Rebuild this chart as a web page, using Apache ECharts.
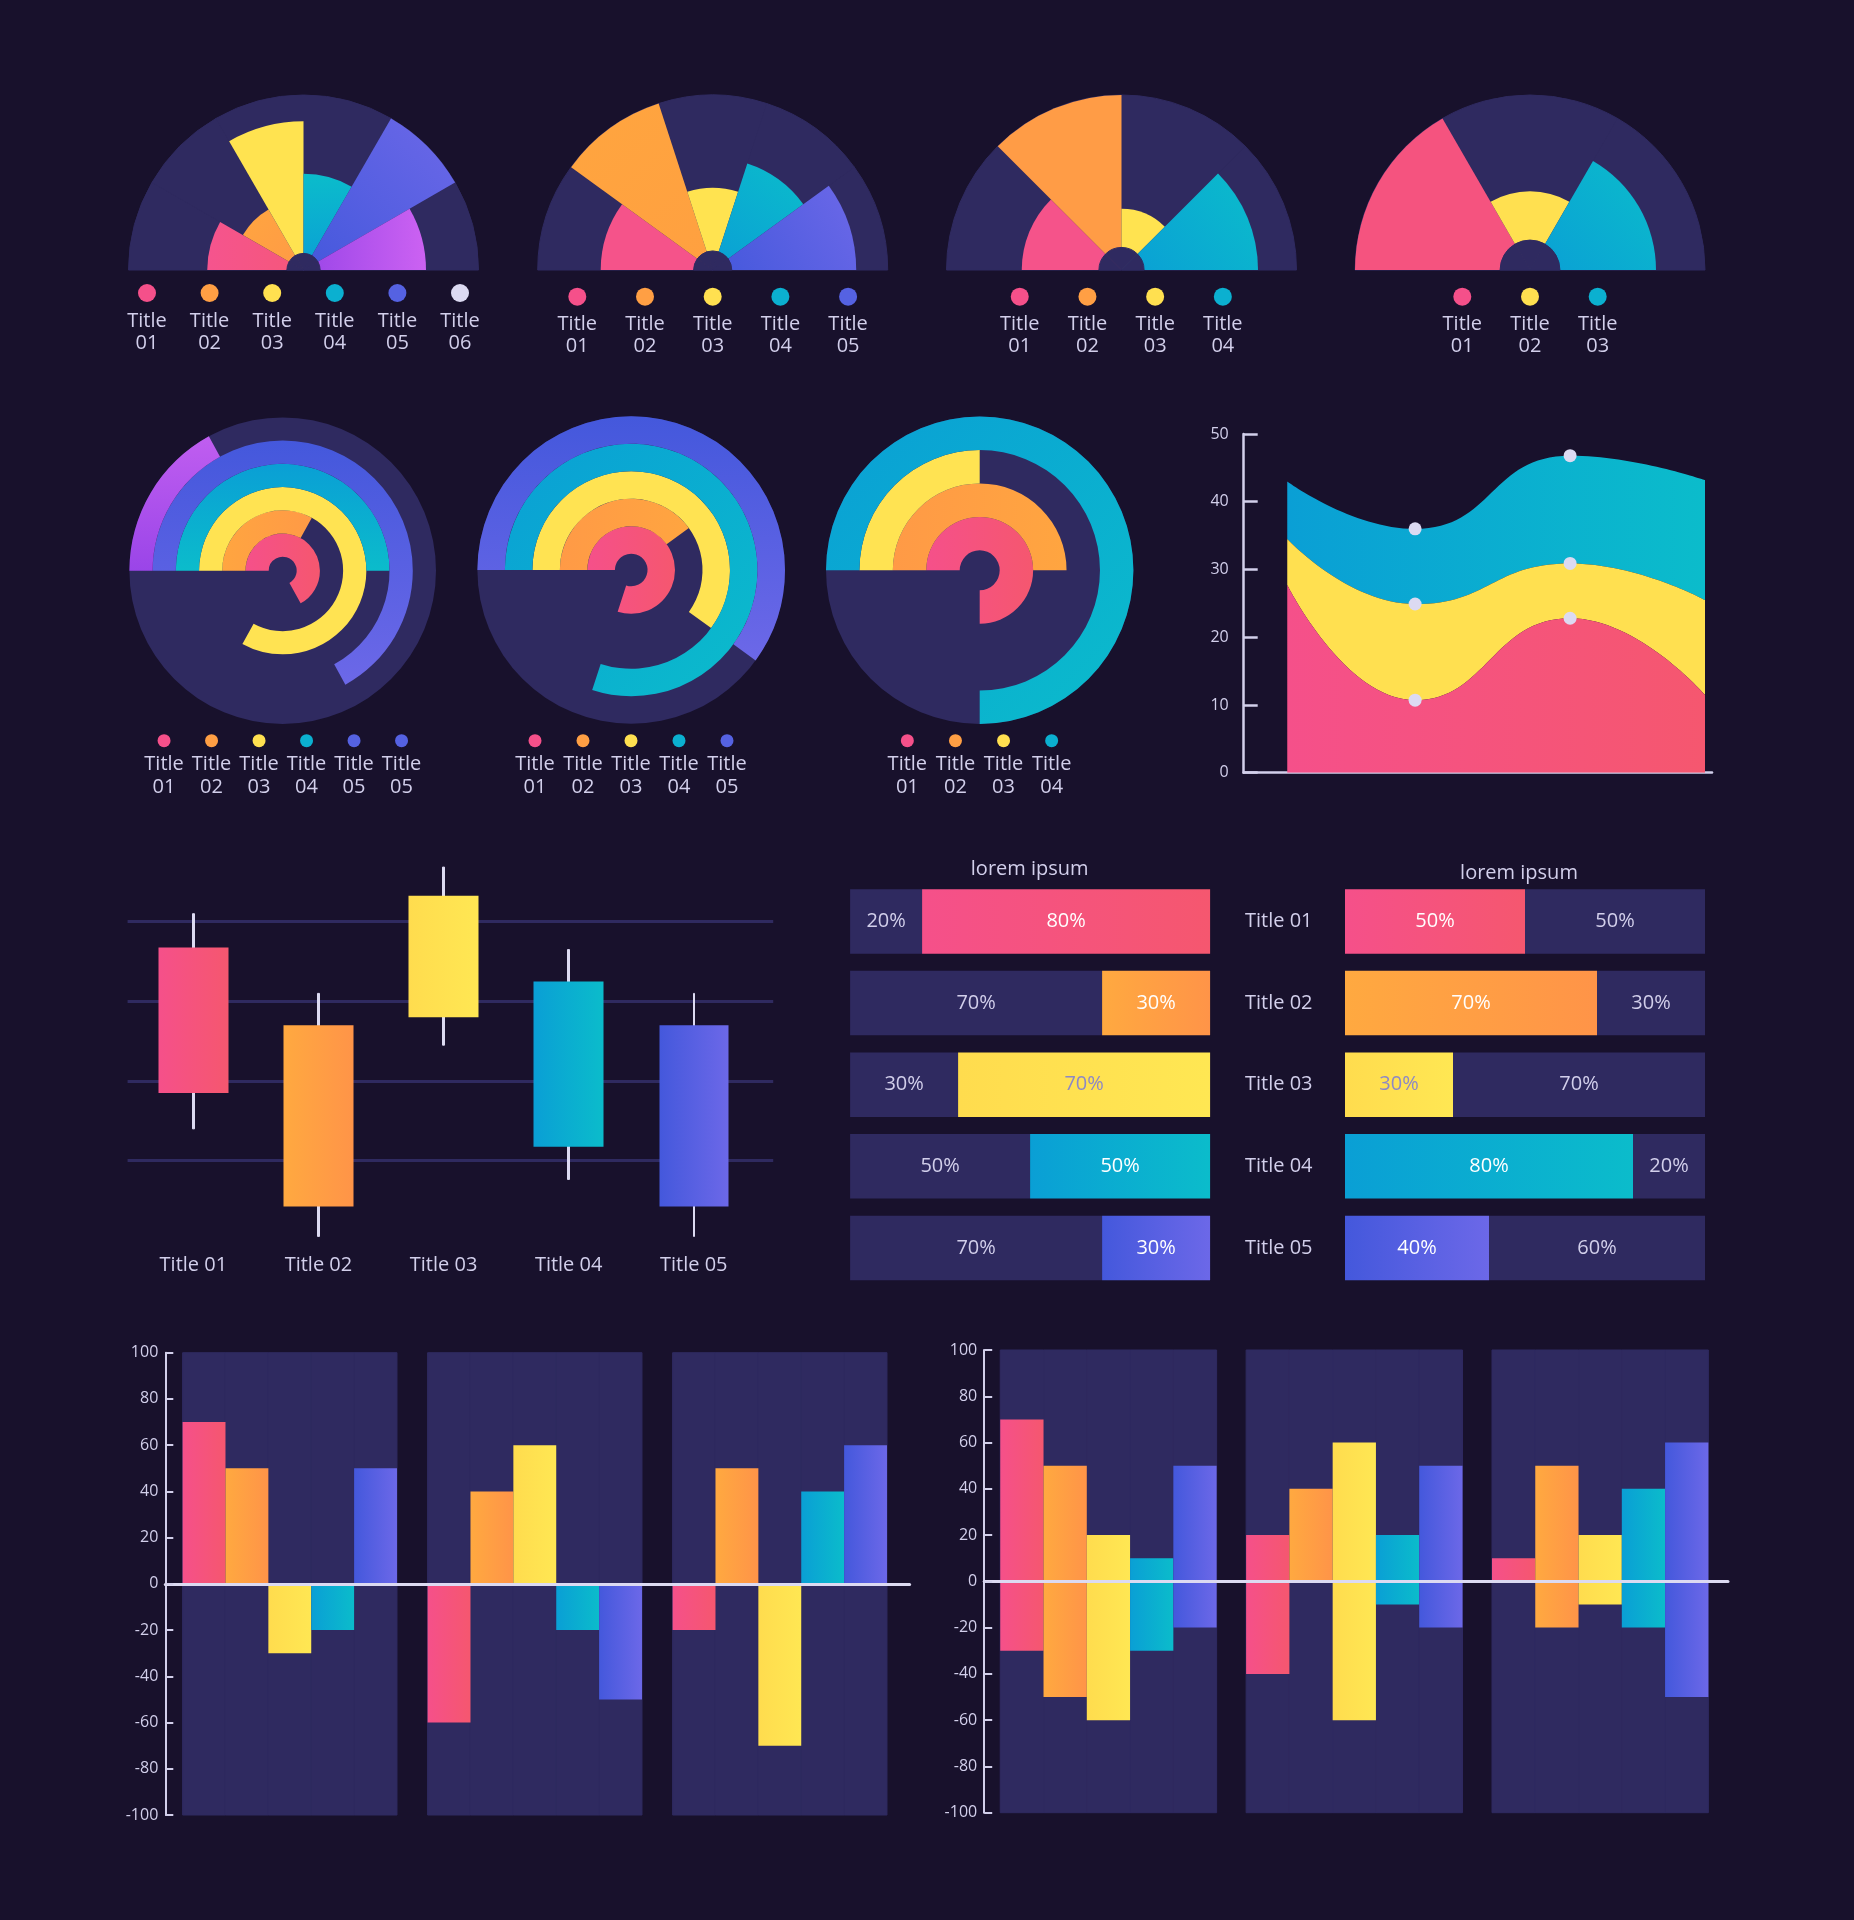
<!DOCTYPE html>
<html><head><meta charset="utf-8">
<script src="https://cdn.jsdelivr.net/npm/echarts@6/dist/echarts.min.js"></script>
<style>html,body{margin:0;padding:0;background:#18112c;}#c{width:1854px;height:1920px;}</style>
</head><body><div id="c"></div>
<script>
// ---------------- DATA ----------------
const rose1Titles = ['Title 01','Title 02','Title 03','Title 04','Title 05','Title 06'];
const rose1Values = [55, 40, 85, 55, 100, 70];
const rose2Titles = ['Title 01','Title 02','Title 03','Title 04','Title 05'];
const rose2Values = [64, 100, 47, 64, 82];
const rose3Titles = ['Title 01','Title 02','Title 03','Title 04'];
const rose3Values = [57, 100, 35, 78];
const rose4Titles = ['Title 01','Title 02','Title 03'];
const rose4Values = [100, 45, 72];

const ring1Titles = ['Title 01','Title 02','Title 03','Title 04','Title 05','Title 05'];
const ring1Values = [67, 33, 83, 50, 67, 17];
const ring2Titles = ['Title 01','Title 02','Title 03','Title 04','Title 05'];
const ring2Values = [80, 40, 60, 80, 60];
const ring3Titles = ['Title 01','Title 02','Title 03','Title 04'];
const ring3Values = [75, 50, 25, 75];

const areaX      = [9.3, 36.6, 69.7, 98.5];
const areaPink   = [27.7, 10.7, 22.8, 11.5];
const areaYellow = [6.8, 14.2, 8.1, 14.0];
const areaCyan   = [8.5, 11.1, 15.9, 17.7];
const areaTicks  = [0, 10, 20, 30, 40, 50];

const candleTitles = ['Title 01','Title 02','Title 03','Title 04','Title 05'];
const candleOpen  = [37, 8.5, 56, 23.5, 8.5];
const candleClose = [73.5, 54, 86.5, 65, 54];
const candleLow   = [28, 1, 49, 15.3, 1];
const candleHigh  = [82, 62, 93.7, 73, 62];

const pctTitles = ['Title 01','Title 02','Title 03','Title 04','Title 05'];
const pctLeftRest   = [20, 70, 30, 50, 70];
const pctLeftShare  = [80, 30, 70, 50, 30];
const pctRightShare = [50, 70, 30, 80, 40];
const pctRightRest  = [50, 30, 70, 20, 60];
const pctTitle = 'lorem ipsum';

const barGroups = ['Group 1','Group 2','Group 3'];
const barNames = ['Title 01','Title 02','Title 03','Title 04','Title 05'];
const barValues = [[70,-60,-20],[50,40,50],[-30,60,-70],[-20,-20,40],[50,-50,60]];
const rangeHigh = [[70,20,10],[50,40,50],[20,60,20],[10,20,40],[50,50,60]];
const rangeLow  = [[-30,-40,0],[-50,0,-20],[-60,-60,-10],[-30,-10,-20],[-20,-20,-50]];

// ---------------- STYLE ----------------
const BG='#18112c', PANEL='#2f2a60', TXT='#d2cfeb', LAV='#dcdaf2';
const FONT='"Open Sans","Noto Sans",sans-serif';
function lgc(a,b,x0=0,y0=0,x1=1,y1=0){return new echarts.graphic.LinearGradient(x0,y0,x1,y1,[{offset:0,color:a},{offset:1,color:b}]);}
const G = {
  pink:()=>lgc('#f5508a','#f5576f'),
  orange:()=>lgc('#ffa940','#ff9448'),
  yellow:()=>lgc('#ffdc4e','#ffe753'),
  cyan:()=>lgc('#0a9fd5','#0bbccb'),
  blue:()=>lgc('#4458dc','#6c68e8'),
  purple:()=>lgc('#9a45e8','#cc62f2')
};
const DOT = {pink:'#f5508a',orange:'#ff9f44',yellow:'#ffe050',cyan:'#0bb0d0',blue:'#5562e2',lav:'#dcdaf2'};
const seq5 = ['pink','orange','yellow','cyan','blue'];
const PANEL_BG = {color:PANEL,borderColor:PANEL,borderWidth:1};

const grid=[],xAxis=[],yAxis=[],polar=[],angleAxis=[],radiusAxis=[],series=[],graphic=[];

function addLegend(labels, colors, cx, y, sp, size, lh, mg){
  const gi=grid.length, w=labels.length*sp;
  grid.push({left:cx-w/2, top:y-10, width:w, height:20});
  xAxis.push({gridIndex:gi,type:'category',data:labels.map((_,i)=>String(i)),
    axisLine:{show:false},axisTick:{show:false},splitLine:{show:false},
    axisLabel:{interval:0,color:TXT,fontSize:20,lineHeight:lh,margin:mg,fontFamily:FONT,
      formatter:(v,i)=>labels[i].replace(' ','\n')}});
  yAxis.push({gridIndex:gi,type:'value',min:0,max:1,show:false});
  series.push({type:'scatter',xAxisIndex:gi,yAxisIndex:gi,symbolSize:size,silent:true,
    data:labels.map((l,i)=>({value:0.5,itemStyle:{color:DOT[colors[i]],opacity:1}}))});
}

function addRose(titles, values, colors, cx, cy, r, hole){
  const pi=polar.length;
  polar.push({center:[cx,cy],radius:[0,r]});
  angleAxis.push({polarIndex:pi,type:'category',data:titles,startAngle:180,endAngle:0,clockwise:true,show:false});
  radiusAxis.push({polarIndex:pi,type:'value',min:0,max:100,show:false});
  const base={type:'bar',coordinateSystem:'polar',polarIndex:pi,barCategoryGap:'0%',barGap:'-100%',silent:true};
  series.push(Object.assign({},base,{z:1,data:titles.map(()=>100),itemStyle:PANEL_BG}));
  series.push(Object.assign({},base,{z:2,data:values.map((v,i)=>({value:v,itemStyle:{color:colors[i]}}))}));
  series.push(Object.assign({},base,{z:3,data:titles.map(()=>hole),itemStyle:PANEL_BG}));
}

function addRing(titles, values, colors, cx, cy, r0, r){
  const pi=polar.length;
  polar.push({center:[cx,cy],radius:[r0,r]});
  radiusAxis.push({polarIndex:pi,type:'category',data:titles.map((_,i)=>String(i)),show:false});
  angleAxis.push({polarIndex:pi,type:'value',min:0,max:100,startAngle:180,clockwise:true,show:false});
  series.push({type:'pie',center:[cx,cy],radius:[0,r],silent:true,z:1,label:{show:false},labelLine:{show:false},
    data:[{value:1,itemStyle:{color:PANEL}}]});
  series.push({type:'bar',coordinateSystem:'polar',polarIndex:pi,barCategoryGap:'0%',silent:true,z:2,
    data:values.map((v,i)=>({value:v,itemStyle:{color:colors[i]}}))});
}

// ---- Row 1: half roses
addRose(rose1Titles, rose1Values, [lgc('#f5548e','#f5577a'), lgc('#ffa540','#ff9a46',0,0,1,1), '#ffe350',
  lgc('#0bbccb','#0a9fd5',0,0,0,1), lgc('#6c68e8','#4458dc',1,0,0,1), lgc('#9a45e8','#cc62f2')], 303.5, 270, 175, 9.5);
addRose(rose2Titles, rose2Values, ['#f5538a', lgc('#ffa53f','#ffa040',0,0,1,1), '#ffe350',
  lgc('#0bbccb','#0a9fd5',1,0,0,1), lgc('#4458dc','#6c68e8',0,1,1,0)], 712.7, 270, 175, 10.9);
addRose(rose3Titles, rose3Values, ['#f5538a', '#ff9c46', '#ffe350', lgc('#0a9fd5','#0bbccb',0,1,1,0)], 1121.5, 270, 175, 12.9);
addRose(rose4Titles, rose4Values, ['#f5537f', '#ffe050', lgc('#0a9fd5','#0bbccb',0,1,1,0)], 1530, 270, 175, 17.1);

addLegend(rose1Titles, ['pink','orange','yellow','cyan','blue','lav'], 303.5, 293, 62.6, 18, 22, 7);
addLegend(rose2Titles, seq5, 712.7, 296.7, 67.7, 18, 22, 7);
addLegend(rose3Titles, ['pink','orange','yellow','cyan'], 1121.3, 296.7, 67.7, 18, 22, 7);
addLegend(rose4Titles, ['pink','yellow','cyan'], 1530, 296.7, 67.7, 18, 22, 7);

// ---- Row 2: rings
addRing(ring1Titles, ring1Values, [G.pink(), lgc('#ffa540','#ff9a46'), '#ffe352', lgc('#0a9fd5','#0bbccb',0,0,0,1),
  lgc('#4458dc','#6c68e8',0,0,0,1), lgc('#c05ef0','#9a45e8',0,0,0,1)], 282.7, 570.7, 14, 153.3);
addRing(ring2Titles, ring2Values, [G.pink(), lgc('#ff9a46','#ffa540'), '#ffe352', lgc('#0a9fd5','#0bbccb',0,0,1,1),
  lgc('#4458dc','#6c68e8',0,0,0,1)], 631.2, 570, 16.3, 153.8);
addRing(ring3Titles, ring3Values, [G.pink(), lgc('#ff9a46','#ffa540'), '#ffe352', lgc('#0a9fd5','#0bbccb',0,0,1,1)], 979.7, 570.3, 20, 153.7);

addLegend(ring1Titles, ['pink','orange','yellow','cyan','blue','blue'], 282.8, 740.7, 47.5, 13, 23, 2);
addLegend(ring2Titles, seq5, 631, 740.7, 48, 13, 23, 2);
addLegend(ring3Titles, ['pink','orange','yellow','cyan'], 979.5, 740.7, 48.1, 13, 23, 2);

// ---- Area chart (x on a time-type axis so the stack runs along y)
(function(){
  const gi=grid.length;
  grid.push({left:1243.7, top:434, width:468.3, height:338.7});
  xAxis.push({gridIndex:gi,type:'time',min:0,max:100,axisLine:{show:true,lineStyle:{color:TXT,width:2.5}},
    axisTick:{show:false},axisLabel:{show:false},splitLine:{show:false}});
  yAxis.push({gridIndex:gi,type:'value',min:areaTicks[0],max:areaTicks[areaTicks.length-1],interval:areaTicks[1]-areaTicks[0],
    axisLine:{show:true,lineStyle:{color:TXT,width:2.5}},
    axisTick:{show:true,inside:true,length:14,lineStyle:{color:TXT,width:2.5}},
    axisLabel:{color:TXT,fontSize:16,margin:15,fontFamily:FONT},splitLine:{show:false}});
  const defs=[[areaPink,G.pink(),5],[areaYellow,'#ffe050',4],[areaCyan,G.cyan(),3]];
  defs.forEach(([vals,col,z])=>{
    series.push({type:'line',xAxisIndex:gi,yAxisIndex:gi,stack:'area',smooth:0.5,z:z,silent:true,
      data:vals.map((v,i)=>[areaX[i],v]),lineStyle:{width:0},areaStyle:{color:col,opacity:1},
      symbol:'circle',symbolSize:(v,p)=>(p.dataIndex===1||p.dataIndex===2)?13:0,
      itemStyle:{color:LAV,opacity:1},showSymbol:true});
  });
})();

// ---- Candlestick
(function(){
  const gl=grid.length;
  grid.push({left:127.6, top:842, width:645.6, height:398.4});
  xAxis.push({gridIndex:gl,type:'value',min:0,max:1,show:false});
  yAxis.push({gridIndex:gl,type:'value',min:0,max:100,interval:20,axisLine:{show:false},axisTick:{show:false},
    axisLabel:{show:false},splitLine:{show:true,showMinLine:false,showMaxLine:false,lineStyle:{color:PANEL,width:3}}});
  const gi=grid.length;
  grid.push({left:130.8, top:842, width:625.5, height:398.4});
  xAxis.push({gridIndex:gi,type:'category',data:candleTitles,axisLine:{show:false},axisTick:{show:false},
    axisLabel:{color:TXT,fontSize:20,margin:15,fontFamily:FONT}});
  yAxis.push({gridIndex:gi,type:'value',min:0,max:100,show:false});
  series.push({type:'candlestick',xAxisIndex:gi,yAxisIndex:gi,barWidth:2,silent:true,z:2,
    data:candleTitles.map((t,i)=>[candleLow[i],candleHigh[i],candleLow[i],candleHigh[i]]),
    itemStyle:{color:LAV,color0:LAV,borderColor:LAV,borderColor0:LAV,borderWidth:1}});
  series.push({type:'candlestick',xAxisIndex:gi,yAxisIndex:gi,barWidth:70,silent:true,z:3,
    data:candleTitles.map((t,i)=>{const g=G[seq5[i]]();return {value:[candleOpen[i],candleClose[i],candleOpen[i],candleClose[i]],
      itemStyle:{color:g,color0:g,borderColor:'rgba(0,0,0,0)',borderColor0:'rgba(0,0,0,0)',borderWidth:0}};})});
})();

// ---- Percent bars
function addPct(left, first, second, firstColored, showAxisLabels){
  const gi=grid.length;
  grid.push({left:left, top:880.7, width:360, height:408});
  xAxis.push({gridIndex:gi,type:'value',min:0,max:100,show:false});
  yAxis.push({gridIndex:gi,type:'category',inverse:true,data:pctTitles,axisLine:{show:false},axisTick:{show:false},splitLine:{show:false},
    axisLabel:showAxisLabels?{show:true,align:'left',margin:100,color:TXT,fontSize:20,fontFamily:FONT}:{show:false}});
  const mk=(vals,colored)=>({type:'bar',xAxisIndex:gi,yAxisIndex:gi,stack:'p'+gi,barCategoryGap:'21%',silent:true,
    label:{show:true,position:'inside',formatter:'{c}%',fontSize:20,fontFamily:FONT,color:colored?'#ffffff':TXT,textBorderWidth:0},
    data:vals.map((v,i)=>{
      if(!colored) return {value:v,itemStyle:{color:PANEL}};
      const o={value:v,itemStyle:{color:G[seq5[i]]()}};
      if(seq5[i]==='yellow') o.label={color:'#8d88c6'};
      return o;})});
  series.push(mk(first,firstColored), mk(second,!firstColored));
}
addPct(850.1, pctLeftRest, pctLeftShare, false, false);
addPct(1345, pctRightShare, pctRightRest, true, true);
graphic.push({type:'text',x:1029.7,y:869,style:{text:pctTitle,fill:TXT,fontSize:20,fontFamily:FONT,align:'center',verticalAlign:'middle'}});
graphic.push({type:'text',x:1519,y:873,style:{text:pctTitle,fill:TXT,fontSize:20,fontFamily:FONT,align:'center',verticalAlign:'middle'}});

// ---- Bottom bar charts
function addAxes(left, top, width, height){
  const gi=grid.length;
  grid.push({left:left,top:top,width:width,height:height});
  xAxis.push({gridIndex:gi,type:'value',min:0,max:1,z:10,axisLine:{show:true,onZero:true,lineStyle:{color:LAV,width:3}},
    axisTick:{show:false},axisLabel:{show:false},splitLine:{show:false}});
  yAxis.push({gridIndex:gi,type:'value',min:-100,max:100,interval:20,z:10,
    axisLine:{show:true,lineStyle:{color:TXT,width:2}},
    axisTick:{show:true,inside:true,length:8,lineStyle:{color:TXT,width:2}},
    axisLabel:{color:TXT,fontSize:16,margin:7,fontFamily:FONT},splitLine:{show:false}});
}
(function(){
  const gi=grid.length;
  grid.push({left:167.3, top:1352.7, width:735, height:462.3});
  xAxis.push({gridIndex:gi,type:'category',data:barGroups,show:false});
  yAxis.push({gridIndex:gi,type:'value',min:-100,max:100,show:false});
  barNames.forEach((n,k)=>{
    series.push({type:'bar',name:n,xAxisIndex:gi,yAxisIndex:gi,barGap:'0%',barCategoryGap:'12.5%',silent:true,
      showBackground:true,backgroundStyle:PANEL_BG,itemStyle:{color:G[seq5[k]]()},data:barValues[k]});
  });
  addAxes(165.3, 1352.7, 744.3, 462.3);
})();
(function(){
  const gi=grid.length;
  grid.push({left:985.5, top:1350, width:737.6, height:462.7});
  xAxis.push({gridIndex:gi,type:'category',data:barGroups,show:false});
  yAxis.push({gridIndex:gi,type:'value',min:-100,max:100,show:false});
  barNames.forEach((n,k)=>{
    series.push({type:'bar',name:n,xAxisIndex:gi,yAxisIndex:gi,stack:'r'+k,barGap:'0%',barCategoryGap:'12%',silent:true,
      showBackground:true,backgroundStyle:PANEL_BG,itemStyle:{color:G[seq5[k]]()},data:rangeHigh[k]});
    series.push({type:'bar',name:n,xAxisIndex:gi,yAxisIndex:gi,stack:'r'+k,barGap:'0%',barCategoryGap:'12%',silent:true,
      itemStyle:{color:G[seq5[k]]()},data:rangeLow[k]});
  });
  addAxes(984.2, 1350, 743.8, 462.7);
})();

const chart=echarts.init(document.getElementById('c'),null,{renderer:'canvas',width:1854,height:1920});
chart.setOption({backgroundColor:BG,animation:false,textStyle:{fontFamily:FONT},
  grid,xAxis,yAxis,polar,angleAxis,radiusAxis,series,graphic});
</script></body></html>
